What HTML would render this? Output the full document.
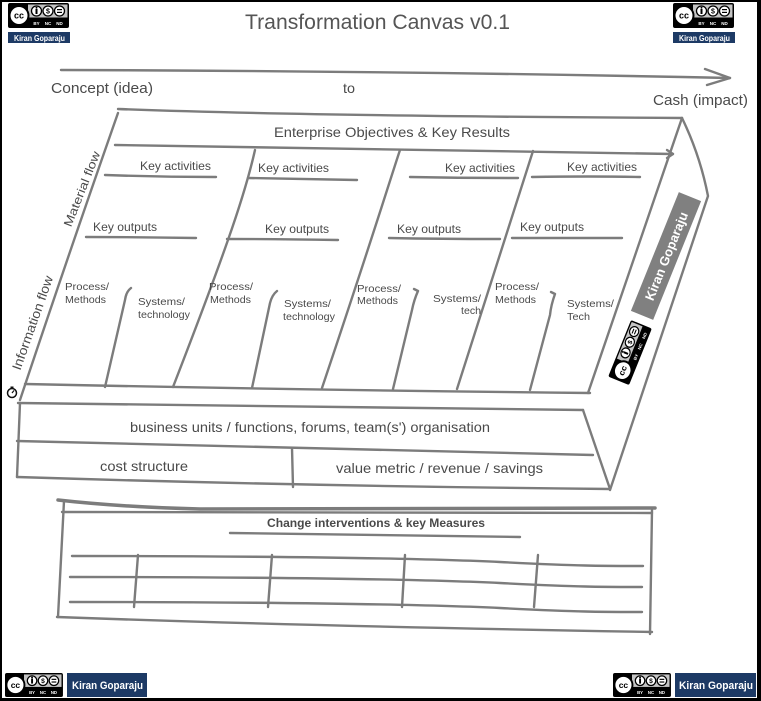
<!DOCTYPE html>
<html><head><meta charset="utf-8">
<style>
html,body{margin:0;padding:0;background:#fff;}
svg{display:block;}
text{font-family:"Liberation Sans",sans-serif;}
.l{fill:none;stroke:#7c7c7c;stroke-width:2.4;stroke-linecap:round;stroke-linejoin:round;}
.t{fill:#4a4a4a;}
</style></head><body>
<svg width="761" height="701" viewBox="0 0 761 701" xmlns="http://www.w3.org/2000/svg">
<rect width="761" height="701" fill="#fff"/>
<!-- frame -->
<rect x="0" y="0" width="761" height="2" fill="#000"/>
<rect x="0" y="0" width="2" height="701" fill="#000"/>
<rect x="757" y="0" width="4" height="701" fill="#000"/>
<rect x="0" y="698" width="761" height="3" fill="#000"/>

<!-- top-left badge -->
<g transform="translate(8,3)">
  <rect x="0" y="0" width="61" height="25" rx="2" fill="#000"/>
  <rect x="20" y="1.5" width="39.5" height="13" fill="#c4c4c4"/>
  <circle cx="11" cy="12.5" r="9.5" fill="#fff" stroke="#000" stroke-width="2"/>
  <text x="11" y="15.5" font-size="9" font-weight="bold" text-anchor="middle" fill="#000">cc</text>
  <circle cx="28.5" cy="8" r="5" fill="#fff" stroke="#000" stroke-width="1.3"/>
  <circle cx="40" cy="8" r="5" fill="#fff" stroke="#000" stroke-width="1.3"/>
  <circle cx="51.5" cy="8" r="5" fill="#fff" stroke="#000" stroke-width="1.3"/>
  <rect x="27.5" y="6" width="2" height="5" fill="#000"/><circle cx="28.5" cy="4.8" r="1" fill="#000"/>
  <text x="40" y="10.5" font-size="7" font-weight="bold" text-anchor="middle" fill="#000">$</text>
  <rect x="49" y="6" width="5" height="1.2" fill="#000"/><rect x="49" y="8.8" width="5" height="1.2" fill="#000"/>
  <text x="28.5" y="22" font-size="4.5" font-weight="bold" text-anchor="middle" fill="#fff">BY</text>
  <text x="40" y="22" font-size="4.5" font-weight="bold" text-anchor="middle" fill="#fff">NC</text>
  <text x="51.5" y="22" font-size="4.5" font-weight="bold" text-anchor="middle" fill="#fff">ND</text>
</g>
<rect x="8" y="32" width="62" height="11" fill="#1d3a65"/>
<text x="14" y="41" font-size="8" font-weight="bold" fill="#fff" textLength="51" lengthAdjust="spacingAndGlyphs">Kiran Goparaju</text>

<!-- top-right badge -->
<g transform="translate(673,3)">
  <rect x="0" y="0" width="61" height="25" rx="2" fill="#000"/>
  <rect x="20" y="1.5" width="39.5" height="13" fill="#c4c4c4"/>
  <circle cx="11" cy="12.5" r="9.5" fill="#fff" stroke="#000" stroke-width="2"/>
  <text x="11" y="15.5" font-size="9" font-weight="bold" text-anchor="middle" fill="#000">cc</text>
  <circle cx="28.5" cy="8" r="5" fill="#fff" stroke="#000" stroke-width="1.3"/>
  <circle cx="40" cy="8" r="5" fill="#fff" stroke="#000" stroke-width="1.3"/>
  <circle cx="51.5" cy="8" r="5" fill="#fff" stroke="#000" stroke-width="1.3"/>
  <rect x="27.5" y="6" width="2" height="5" fill="#000"/><circle cx="28.5" cy="4.8" r="1" fill="#000"/>
  <text x="40" y="10.5" font-size="7" font-weight="bold" text-anchor="middle" fill="#000">$</text>
  <rect x="49" y="6" width="5" height="1.2" fill="#000"/><rect x="49" y="8.8" width="5" height="1.2" fill="#000"/>
  <text x="28.5" y="22" font-size="4.5" font-weight="bold" text-anchor="middle" fill="#fff">BY</text>
  <text x="40" y="22" font-size="4.5" font-weight="bold" text-anchor="middle" fill="#fff">NC</text>
  <text x="51.5" y="22" font-size="4.5" font-weight="bold" text-anchor="middle" fill="#fff">ND</text>
</g>
<rect x="673" y="32" width="62" height="11" fill="#1d3a65"/>
<text x="679" y="41" font-size="8" font-weight="bold" fill="#fff" textLength="51" lengthAdjust="spacingAndGlyphs">Kiran Goparaju</text>

<!-- bottom-left badge -->
<g transform="translate(5,673) scale(0.95,0.96)">
  <rect x="0" y="0" width="61" height="25" rx="2" fill="#000"/>
  <rect x="20" y="1.5" width="39.5" height="13" fill="#c4c4c4"/>
  <circle cx="11" cy="12.5" r="9.5" fill="#fff" stroke="#000" stroke-width="2"/>
  <text x="11" y="15.5" font-size="9" font-weight="bold" text-anchor="middle" fill="#000">cc</text>
  <circle cx="28.5" cy="8" r="5" fill="#fff" stroke="#000" stroke-width="1.3"/>
  <circle cx="40" cy="8" r="5" fill="#fff" stroke="#000" stroke-width="1.3"/>
  <circle cx="51.5" cy="8" r="5" fill="#fff" stroke="#000" stroke-width="1.3"/>
  <rect x="27.5" y="6" width="2" height="5" fill="#000"/><circle cx="28.5" cy="4.8" r="1" fill="#000"/>
  <text x="40" y="10.5" font-size="7" font-weight="bold" text-anchor="middle" fill="#000">$</text>
  <rect x="49" y="6" width="5" height="1.2" fill="#000"/><rect x="49" y="8.8" width="5" height="1.2" fill="#000"/>
  <text x="28.5" y="22" font-size="4.5" font-weight="bold" text-anchor="middle" fill="#fff">BY</text>
  <text x="40" y="22" font-size="4.5" font-weight="bold" text-anchor="middle" fill="#fff">NC</text>
  <text x="51.5" y="22" font-size="4.5" font-weight="bold" text-anchor="middle" fill="#fff">ND</text>
</g>
<rect x="67" y="673" width="80" height="24" fill="#1d3a65"/>
<text x="72" y="689" font-size="11" font-weight="bold" fill="#fff" textLength="71" lengthAdjust="spacingAndGlyphs">Kiran Goparaju</text>

<!-- bottom-right badge -->
<g transform="translate(613,673) scale(0.95,0.96)">
  <rect x="0" y="0" width="61" height="25" rx="2" fill="#000"/>
  <rect x="20" y="1.5" width="39.5" height="13" fill="#c4c4c4"/>
  <circle cx="11" cy="12.5" r="9.5" fill="#fff" stroke="#000" stroke-width="2"/>
  <text x="11" y="15.5" font-size="9" font-weight="bold" text-anchor="middle" fill="#000">cc</text>
  <circle cx="28.5" cy="8" r="5" fill="#fff" stroke="#000" stroke-width="1.3"/>
  <circle cx="40" cy="8" r="5" fill="#fff" stroke="#000" stroke-width="1.3"/>
  <circle cx="51.5" cy="8" r="5" fill="#fff" stroke="#000" stroke-width="1.3"/>
  <rect x="27.5" y="6" width="2" height="5" fill="#000"/><circle cx="28.5" cy="4.8" r="1" fill="#000"/>
  <text x="40" y="10.5" font-size="7" font-weight="bold" text-anchor="middle" fill="#000">$</text>
  <rect x="49" y="6" width="5" height="1.2" fill="#000"/><rect x="49" y="8.8" width="5" height="1.2" fill="#000"/>
  <text x="28.5" y="22" font-size="4.5" font-weight="bold" text-anchor="middle" fill="#fff">BY</text>
  <text x="40" y="22" font-size="4.5" font-weight="bold" text-anchor="middle" fill="#fff">NC</text>
  <text x="51.5" y="22" font-size="4.5" font-weight="bold" text-anchor="middle" fill="#fff">ND</text>
</g>
<rect x="675" y="673" width="81" height="24" fill="#1d3a65"/>
<text x="679" y="689" font-size="11" font-weight="bold" fill="#fff" textLength="74" lengthAdjust="spacingAndGlyphs">Kiran Goparaju</text>

<!-- title -->
<text x="245" y="29" font-size="21" fill="#555" textLength="265" lengthAdjust="spacingAndGlyphs">Transformation Canvas v0.1</text>

<!-- arrow -->
<path class="l" d="M61,70 Q400,71 730,78"/>
<path class="l" d="M705,69 L730,78 L707,85"/>
<text class="t" x="51" y="93" font-size="15" textLength="102" lengthAdjust="spacingAndGlyphs">Concept (idea)</text>
<text class="t" x="343" y="93" font-size="14" textLength="12" lengthAdjust="spacingAndGlyphs">to</text>
<text class="t" x="653" y="105" font-size="15" textLength="95" lengthAdjust="spacingAndGlyphs">Cash (impact)</text>

<!-- main structure -->
<path class="l" d="M118,109 Q300,116 682,118"/>
<path class="l" d="M118,113 Q70,250 20,400"/>
<path class="l" d="M115,145 Q400,150 673,154"/>
<path class="l" d="M667,150 L673,154 L667,158"/>
<path class="l" d="M682,118 L588,393"/>
<path class="l" d="M682,118 Q700,155 708,196 L610,490"/>
<path class="l" d="M25,384 Q300,390 590,393"/>
<path class="l" d="M18,403 Q300,406 583,410"/>
<path class="l" d="M583,410 L610,489"/>
<path class="l" d="M20,403 L17,477"/>
<path class="l" d="M17,441 Q300,448 593,455"/>
<path class="l" d="M17,477 Q300,486 610,489"/>
<path class="l" d="M292,448 L293,487"/>

<!-- column dividers -->
<path class="l" d="M255,150 C246,190 230,240 173,387"/>
<path class="l" d="M400,150 C390,180 375,230 322,388"/>
<path class="l" d="M533,151 L457,389"/>
<path class="l" d="M131,288 Q126,292 125,300 L105,387"/>
<path class="l" d="M277,291 Q272,295 270,303 L252,388"/>
<path class="l" d="M414,289 L418,291 Q414,300 412,310 L393,389"/>
<path class="l" d="M551,292 L555,294 Q551,305 550,315 L530,390"/>

<!-- underlines -->
<path class="l" d="M105,175 Q160,177 216,177"/>
<path class="l" d="M248,178 Q300,179 357,180"/>
<path class="l" d="M410,177 Q460,178 518,178"/>
<path class="l" d="M532,177 Q590,176 640,177"/>
<path class="l" d="M86,237 Q140,237 196,238"/>
<path class="l" d="M227,239 Q280,239 338,240"/>
<path class="l" d="M389,238 Q440,239 500,239"/>
<path class="l" d="M512,238 Q560,238 622,238"/>

<!-- texts in main -->
<text class="t" x="274" y="137" font-size="14" textLength="236" lengthAdjust="spacingAndGlyphs">Enterprise Objectives &amp; Key Results</text>
<text class="t" x="140" y="170" font-size="12" textLength="71" lengthAdjust="spacingAndGlyphs">Key activities</text>
<text class="t" x="258" y="172" font-size="12" textLength="71" lengthAdjust="spacingAndGlyphs">Key activities</text>
<text class="t" x="445" y="172" font-size="12" textLength="70" lengthAdjust="spacingAndGlyphs">Key activities</text>
<text class="t" x="567" y="171" font-size="12" textLength="70" lengthAdjust="spacingAndGlyphs">Key activities</text>
<text class="t" x="93" y="231" font-size="12" textLength="64" lengthAdjust="spacingAndGlyphs">Key outputs</text>
<text class="t" x="265" y="233" font-size="12" textLength="64" lengthAdjust="spacingAndGlyphs">Key outputs</text>
<text class="t" x="397" y="233" font-size="12" textLength="64" lengthAdjust="spacingAndGlyphs">Key outputs</text>
<text class="t" x="520" y="231" font-size="12" textLength="64" lengthAdjust="spacingAndGlyphs">Key outputs</text>

<g font-size="10.5">
<text class="t" x="65" y="290" textLength="44" lengthAdjust="spacingAndGlyphs">Process/</text>
<text class="t" x="65" y="303" textLength="41" lengthAdjust="spacingAndGlyphs">Methods</text>
<text class="t" x="138" y="305" textLength="47" lengthAdjust="spacingAndGlyphs">Systems/</text>
<text class="t" x="138" y="318" textLength="52" lengthAdjust="spacingAndGlyphs">technology</text>
<text class="t" x="209" y="290" textLength="44" lengthAdjust="spacingAndGlyphs">Process/</text>
<text class="t" x="210" y="303" textLength="41" lengthAdjust="spacingAndGlyphs">Methods</text>
<text class="t" x="284" y="307" textLength="47" lengthAdjust="spacingAndGlyphs">Systems/</text>
<text class="t" x="283" y="320" textLength="52" lengthAdjust="spacingAndGlyphs">technology</text>
<text class="t" x="357" y="292" textLength="44" lengthAdjust="spacingAndGlyphs">Process/</text>
<text class="t" x="357" y="304" textLength="41" lengthAdjust="spacingAndGlyphs">Methods</text>
<text class="t" x="433" y="302" textLength="48" lengthAdjust="spacingAndGlyphs">Systems/</text>
<text class="t" x="461" y="314" textLength="20" lengthAdjust="spacingAndGlyphs">tech</text>
<text class="t" x="495" y="290" textLength="44" lengthAdjust="spacingAndGlyphs">Process/</text>
<text class="t" x="495" y="303" textLength="41" lengthAdjust="spacingAndGlyphs">Methods</text>
<text class="t" x="567" y="307" textLength="47" lengthAdjust="spacingAndGlyphs">Systems/</text>
<text class="t" x="567" y="320" textLength="23" lengthAdjust="spacingAndGlyphs">Tech</text>
</g>

<!-- rotated flow labels -->
<text class="t" transform="translate(82,189) rotate(-68.5)" x="0" y="4" font-size="12" text-anchor="middle" textLength="80" lengthAdjust="spacingAndGlyphs">Material flow</text>
<text class="t" transform="translate(33,323) rotate(-70.5)" x="0" y="4" font-size="13" text-anchor="middle" textLength="99" lengthAdjust="spacingAndGlyphs">Information flow</text>
<circle cx="12" cy="393" r="4.5" fill="none" stroke="#111" stroke-width="1.5"/>
<path d="M12,393 L14,390.5" stroke="#111" stroke-width="1.2" fill="none"/>
<rect x="10.5" y="386.5" width="3" height="1.5" fill="#111"/>

<!-- bottom rows text -->
<text class="t" x="130" y="432" font-size="14" textLength="360" lengthAdjust="spacingAndGlyphs">business units / functions, forums, team(s') organisation</text>
<text class="t" x="100" y="471" font-size="14" textLength="88" lengthAdjust="spacingAndGlyphs">cost structure</text>
<text class="t" x="336" y="473" font-size="14" textLength="207" lengthAdjust="spacingAndGlyphs">value metric / revenue / savings</text>

<!-- right panel band -->
<g transform="translate(666,256) rotate(-68)">
  <rect x="-64" y="-12" width="128" height="24" fill="#808080"/>
  <text x="0" y="5" font-size="13" font-weight="bold" text-anchor="middle" fill="#fff" textLength="94" lengthAdjust="spacingAndGlyphs">Kiran Goparaju</text>
</g>
<g transform="translate(630,352) rotate(-68) translate(-31,-11) scale(1,0.9)">
  <rect x="0" y="0" width="61" height="25" rx="2" fill="#000"/>
  <rect x="20" y="1.5" width="39.5" height="13" fill="#c4c4c4"/>
  <circle cx="11" cy="12.5" r="9.5" fill="#fff" stroke="#000" stroke-width="2"/>
  <text x="11" y="15.5" font-size="9" font-weight="bold" text-anchor="middle" fill="#000">cc</text>
  <circle cx="28.5" cy="8" r="5" fill="#fff" stroke="#000" stroke-width="1.3"/>
  <circle cx="40" cy="8" r="5" fill="#fff" stroke="#000" stroke-width="1.3"/>
  <circle cx="51.5" cy="8" r="5" fill="#fff" stroke="#000" stroke-width="1.3"/>
  <rect x="27.5" y="6" width="2" height="5" fill="#000"/><circle cx="28.5" cy="4.8" r="1" fill="#000"/>
  <text x="40" y="10.5" font-size="7" font-weight="bold" text-anchor="middle" fill="#000">$</text>
  <rect x="49" y="6" width="5" height="1.2" fill="#000"/><rect x="49" y="8.8" width="5" height="1.2" fill="#000"/>
  <text x="28.5" y="22" font-size="4.5" font-weight="bold" text-anchor="middle" fill="#fff">BY</text>
  <text x="40" y="22" font-size="4.5" font-weight="bold" text-anchor="middle" fill="#fff">NC</text>
  <text x="51.5" y="22" font-size="4.5" font-weight="bold" text-anchor="middle" fill="#fff">ND</text>
</g>

<!-- bottom box -->
<path class="l" d="M58,500 Q120,507 200,509 L655,508" style="stroke-width:3.5"/>
<path class="l" d="M62,512 L652,513"/>
<path class="l" d="M64,501 L58,617"/>
<path class="l" d="M57,617 Q300,626 652,632"/>
<path class="l" d="M652,510 L650,634"/>
<path class="l" d="M230,533 Q380,535 520,537"/>
<text class="t" x="267" y="527" font-size="12" font-weight="bold" textLength="218" lengthAdjust="spacingAndGlyphs">Change interventions &amp; key Measures</text>
<path class="l" d="M72,556 C250,556 420,558 500,562 S600,566 643,566"/>
<path class="l" d="M70,577 C250,577 420,579 500,583 S600,587 642,587"/>
<path class="l" d="M70,602 C250,602 420,604 500,608 S600,612 642,612"/>
<path class="l" d="M138,555 L134,607"/>
<path class="l" d="M272,555 L268,607"/>
<path class="l" d="M405,555 L402,607"/>
<path class="l" d="M538,555 L534,607"/>
</svg>
</body></html>
